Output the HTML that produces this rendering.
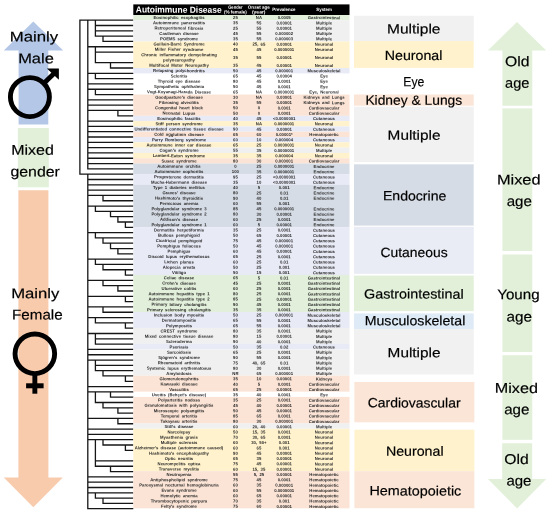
<!DOCTYPE html>
<html lang="en"><head><meta charset="utf-8"><title>Autoimmune Disease clustering</title>
<style>html,body{margin:0;padding:0;background:#fff;overflow:hidden}svg{display:block}text{font-family:"Liberation Sans",sans-serif;fill:#000}.t{font-size:4.25px;font-weight:bold;fill:#2c2c2c;text-anchor:middle;word-spacing:1.0px}.h{font-size:4.6px;fill:#fff;font-weight:bold;text-anchor:middle}.c{font-size:13.4px;text-anchor:middle;stroke:#000;stroke-width:.18px}.b{font-size:14.2px;text-anchor:middle;stroke:#000;stroke-width:.18px}</style></head><body>
<svg width="550" height="515" viewBox="0 0 550 515">
<rect width="550" height="515" fill="#fff"/>
<g id="gender-arrows">
<polygon fill="#b4c7e7" points="33.3,21.6 63.2,50.5 48.3,50.5 48.3,124.5 18.6,124.5 18.6,50.5 3.8,50.5"/>
<rect x="17.8" y="128" width="31" height="59.3" fill="#e2f0d9"/>
<polygon fill="#f8cbad" points="18.4,190.3 48.4,190.3 48.4,477.4 62.8,477.4 33.3,507.3 3.8,477.4 18.4,477.4"/>
</g>
<g id="male" fill="none" stroke="#000">
<circle cx="29.9" cy="97.1" r="19.5" stroke-width="4.9"/>
<line x1="43.4" y1="83.8" x2="54.5" y2="73" stroke-width="4.8"/>
<polygon points="46.9,68.6 58.9,68.6 58.9,79.8" fill="#000" stroke="none"/>
</g>
<g id="female" fill="none" stroke="#000">
<circle cx="34.85" cy="353.8" r="19.8" stroke-width="4.9"/>
<line x1="34.85" y1="373.5" x2="34.85" y2="393.7" stroke-width="4.9"/>
<line x1="26.1" y1="385.8" x2="43.6" y2="385.8" stroke-width="5"/>
</g>
<text class="b" transform="rotate(0.05 34.0 41.6)" x="33.95" y="41.60" textLength="48.50" lengthAdjust="spacingAndGlyphs">Mainly</text>
<text class="b" transform="rotate(0.05 36.0 63.2)" x="36.00" y="63.20" textLength="35.60" lengthAdjust="spacingAndGlyphs">Male</text>
<text class="b" transform="rotate(0.05 32.5 154.7)" x="32.50" y="154.70" textLength="42.60" lengthAdjust="spacingAndGlyphs">Mixed</text>
<text class="b" transform="rotate(0.05 35.1 176.4)" x="35.15" y="176.40" textLength="49.50" lengthAdjust="spacingAndGlyphs">gender</text>
<text class="b" transform="rotate(0.05 35.3 298.3)" x="35.30" y="298.30" textLength="48.20" lengthAdjust="spacingAndGlyphs">Mainly</text>
<text class="b" transform="rotate(0.05 37.4 319.6)" x="37.35" y="319.60" textLength="50.50" lengthAdjust="spacingAndGlyphs">Female</text>
<path id="dendrogram" d="M79.90 20.20L79.90 174.19M79.90 20.20L132.70 20.20M87.80 20.20L87.80 168.88M95.40 20.20L95.40 36.13M95.40 25.51L132.70 25.51M95.40 30.82L132.70 30.82M95.40 36.13L132.70 36.13M103.00 36.13L103.00 41.44M103.00 41.44L132.70 41.44M87.80 46.75L132.70 46.75M95.40 46.75L95.40 62.68M95.40 52.06L132.70 52.06M95.40 62.68L132.70 62.68M110.50 62.68L110.50 67.99M110.50 67.99L132.70 67.99M87.80 73.30L132.70 73.30M95.40 73.30L95.40 78.61M95.40 78.61L132.70 78.61M87.80 83.92L132.70 83.92M87.80 89.23L132.70 89.23M95.40 89.23L95.40 94.54M95.40 94.54L132.70 94.54M87.80 99.85L132.70 99.85M87.80 105.16L132.70 105.16M87.80 110.47L132.70 110.47M117.90 110.47L117.90 115.78M117.90 115.78L132.70 115.78M87.80 121.09L132.70 121.09M87.80 126.40L132.70 126.40M87.80 131.71L132.70 131.71M87.80 137.02L132.70 137.02M87.80 142.33L132.70 142.33M87.80 147.64L132.70 147.64M87.80 152.95L132.70 152.95M87.80 158.26L132.70 158.26M87.80 163.57L132.70 163.57M87.80 168.88L132.70 168.88M79.90 174.19L132.70 174.19M87.80 174.19L87.80 508.72M87.80 179.50L132.70 179.50M87.80 184.81L132.70 184.81M87.80 190.12L132.70 190.12M87.80 195.43L132.70 195.43M103.00 195.43L103.00 200.74M103.00 200.74L132.70 200.74M87.80 206.05L132.70 206.05M95.40 206.05L95.40 211.36M95.40 211.36L132.70 211.36M110.50 211.36L110.50 216.67M110.50 216.67L132.70 216.67M117.90 216.67L117.90 221.98M117.90 221.98L132.70 221.98M125.40 221.98L125.40 227.29M125.40 227.29L132.70 227.29M87.80 232.60L132.70 232.60M95.40 232.60L95.40 237.91M95.40 237.91L132.70 237.91M103.00 237.91L103.00 243.22M103.00 243.22L132.70 243.22M110.50 243.22L110.50 248.53M110.50 248.53L132.70 248.53M117.90 248.53L117.90 253.84M117.90 253.84L132.70 253.84M87.80 259.15L132.70 259.15M95.40 259.15L95.40 264.46M95.40 264.46L132.70 264.46M103.00 264.46L103.00 269.77M103.00 269.77L132.70 269.77M125.40 269.77L125.40 275.08M125.40 275.08L132.70 275.08M87.80 280.39L132.70 280.39M103.00 280.39L103.00 285.70M103.00 285.70L132.70 285.70M117.90 285.70L117.90 291.01M117.90 291.01L132.70 291.01M87.80 296.32L132.70 296.32M125.40 296.32L125.40 301.63M125.40 301.63L132.70 301.63M87.80 306.94L132.70 306.94M103.00 306.94L103.00 312.25M103.00 312.25L132.70 312.25M87.80 317.56L132.70 317.56M95.40 317.56L95.40 322.87M95.40 322.87L132.70 322.87M125.40 322.87L125.40 328.18M125.40 328.18L132.70 328.18M87.80 333.49L132.70 333.49M95.40 333.49L95.40 344.11M95.40 338.80L132.70 338.80M95.40 344.11L132.70 344.11M87.80 349.42L132.70 349.42M87.80 354.73L132.70 354.73M87.80 360.04L132.70 360.04M95.40 360.04L95.40 370.66M95.40 365.35L132.70 365.35M95.40 370.66L132.70 370.66M103.00 370.66L103.00 375.97M103.00 375.97L132.70 375.97M125.40 375.97L125.40 381.28M125.40 381.28L132.70 381.28M87.80 386.59L132.70 386.59M87.80 391.90L132.70 391.90M95.40 391.90L95.40 402.52M110.50 391.90L110.50 397.21M110.50 397.21L132.70 397.21M95.40 402.52L132.70 402.52M103.00 402.52L103.00 407.83M103.00 407.83L132.70 407.83M117.90 407.83L117.90 413.14M117.90 413.14L132.70 413.14M87.80 418.45L132.70 418.45M117.90 418.45L117.90 423.76M117.90 423.76L132.70 423.76M87.80 429.07L132.70 429.07M87.80 434.38L132.70 434.38M87.80 439.69L132.70 439.69M95.40 439.69L95.40 466.24M103.00 439.69L103.00 445.00M103.00 445.00L132.70 445.00M125.40 445.00L125.40 450.31M125.40 450.31L132.70 450.31M95.40 460.93L132.70 460.93M95.40 466.24L132.70 466.24M110.50 466.24L110.50 471.55M110.50 471.55L132.70 471.55M87.80 476.86L132.70 476.86M87.80 482.17L132.70 482.17M87.80 487.48L132.70 487.48M87.80 492.79L132.70 492.79M95.40 492.79L95.40 498.10M95.40 498.10L132.70 498.10M103.00 498.10L103.00 503.41M103.00 503.41L132.70 503.41M87.80 508.72L132.70 508.72" fill="none" stroke="#161616" stroke-width="1.3" stroke-linecap="square"/>
<g id="table">
<rect x="133.3" y="4.4" width="216.20" height="10.60" fill="#000"/>
<rect x="133.3" y="15.00" width="216.20" height="5.35" fill="#e2efda"/>
<rect x="133.3" y="20.30" width="216.20" height="21.27" fill="#f0f0f1"/>
<rect x="133.3" y="41.52" width="216.20" height="26.57" fill="#fff2cc"/>
<rect x="133.3" y="68.04" width="216.20" height="5.35" fill="#e8eaf6"/>
<rect x="133.3" y="94.56" width="216.20" height="21.27" fill="#fbe4d6"/>
<rect x="133.3" y="115.78" width="216.20" height="5.35" fill="#e8eaf6"/>
<rect x="133.3" y="121.09" width="216.20" height="5.35" fill="#fff2cc"/>
<rect x="133.3" y="126.39" width="216.20" height="5.35" fill="#e8eaf6"/>
<rect x="133.3" y="131.69" width="216.20" height="5.35" fill="#fbe4d6"/>
<rect x="133.3" y="137.00" width="216.20" height="5.35" fill="#e8eaf6"/>
<rect x="133.3" y="142.30" width="216.20" height="5.35" fill="#fff2cc"/>
<rect x="133.3" y="147.61" width="216.20" height="5.35" fill="#f0f0f1"/>
<rect x="133.3" y="152.91" width="216.20" height="5.35" fill="#fff2cc"/>
<rect x="133.3" y="158.22" width="216.20" height="5.35" fill="#fbe4d6"/>
<rect x="133.3" y="163.52" width="216.20" height="10.66" fill="#d6dce5"/>
<rect x="133.3" y="174.13" width="216.20" height="10.66" fill="#e8eaf6"/>
<rect x="133.3" y="184.74" width="216.20" height="42.48" fill="#d6dce5"/>
<rect x="133.3" y="227.17" width="216.20" height="47.79" fill="#e8eaf6"/>
<rect x="133.3" y="274.91" width="216.20" height="37.18" fill="#e2efda"/>
<rect x="133.3" y="312.04" width="216.20" height="15.96" fill="#e8eaf6"/>
<rect x="133.3" y="327.95" width="216.20" height="15.96" fill="#f0f0f1"/>
<rect x="133.3" y="343.87" width="216.20" height="5.35" fill="#e8eaf6"/>
<rect x="133.3" y="349.17" width="216.20" height="26.57" fill="#f0f0f1"/>
<rect x="133.3" y="375.69" width="216.20" height="15.96" fill="#fbe4d6"/>
<rect x="133.3" y="396.91" width="216.20" height="26.57" fill="#fbe4d6"/>
<rect x="133.3" y="423.43" width="216.20" height="5.35" fill="#f0f0f1"/>
<rect x="133.3" y="428.74" width="216.20" height="42.48" fill="#fff2cc"/>
<rect x="133.3" y="471.17" width="216.20" height="37.18" fill="#fbe4d6"/>
<g id="table-text">
<g transform="rotate(0.05 240.0 10.0)">
<text x="135.8" y="12.7" textLength="85.8" lengthAdjust="spacingAndGlyphs" style="font-size:8.8px;font-weight:bold;fill:#fff">Autoimmune Disease</text>
<text class="h" x="235.40" y="8.70" textLength="14.50" lengthAdjust="spacingAndGlyphs">Gender</text>
<text class="h" x="235.40" y="13.50" textLength="22.90" lengthAdjust="spacingAndGlyphs">(% female)</text>
<text class="h" x="258.80" y="8.70" textLength="21.90" lengthAdjust="spacingAndGlyphs">Onset age</text>
<text class="h" x="258.75" y="13.50" textLength="13.60" lengthAdjust="spacingAndGlyphs">(year)</text>
<text class="h" x="283.95" y="11.05" textLength="23.20" lengthAdjust="spacingAndGlyphs">Prevalence</text>
<text class="h" x="324.10" y="11.05" textLength="15.50" lengthAdjust="spacingAndGlyphs">System</text>
</g>
<g transform="rotate(0.05 240.0 17.5)">
<text class="t" x="179.0" y="19.05">Eosinophilic esophagitis</text>
<text class="t" x="235.4" y="19.05">25</text>
<text class="t" x="258.9" y="19.05">NA</text>
<text class="t" x="284.2" y="19.05">0.0005</text>
<text class="t" x="324.0" y="19.05">Gastrointestinal</text>
</g>
<g transform="rotate(0.05 240.0 22.8)">
<text class="t" x="179.0" y="24.37">Autoimmune pancreatitis</text>
<text class="t" x="235.4" y="24.37">35</text>
<text class="t" x="258.9" y="24.37">55</text>
<text class="t" x="284.2" y="24.37">0.00001</text>
<text class="t" x="324.0" y="24.37">Multiple</text>
</g>
<g transform="rotate(0.05 240.0 28.1)">
<text class="t" x="179.0" y="29.68">Retroperitoneal fibrosis</text>
<text class="t" x="235.4" y="29.68">25</text>
<text class="t" x="258.9" y="29.68">55</text>
<text class="t" x="284.2" y="29.68">0.00001</text>
<text class="t" x="324.0" y="29.68">Multiple</text>
</g>
<g transform="rotate(0.05 240.0 33.4)">
<text class="t" x="179.0" y="34.99">Castleman disease</text>
<text class="t" x="235.4" y="34.99">45</text>
<text class="t" x="258.9" y="34.99">55</text>
<text class="t" x="284.2" y="34.99">0.000002</text>
<text class="t" x="324.0" y="34.99">Multiple</text>
</g>
<g transform="rotate(0.05 240.0 38.8)">
<text class="t" x="179.0" y="40.30">POEMS syndrome</text>
<text class="t" x="235.4" y="40.30">35</text>
<text class="t" x="258.9" y="40.30">55</text>
<text class="t" x="284.2" y="40.30">0.000003</text>
<text class="t" x="324.0" y="40.30">Multiple</text>
</g>
<g transform="rotate(0.05 240.0 44.1)">
<text class="t" x="179.0" y="45.62">Guillain-Barré Syndrome</text>
<text class="t" x="235.4" y="45.62">40</text>
<text class="t" x="258.9" y="45.62">25, 65</text>
<text class="t" x="284.2" y="45.62">0.00001</text>
<text class="t" x="324.0" y="45.62">Neuronal</text>
</g>
<g transform="rotate(0.05 240.0 49.4)">
<text class="t" x="179.0" y="50.93">Miller Fisher syndrome</text>
<text class="t" x="235.4" y="50.93">45</text>
<text class="t" x="258.9" y="50.93">45</text>
<text class="t" x="284.2" y="50.93">0.0000001</text>
<text class="t" x="324.0" y="50.93">Neuronal</text>
</g>
<g transform="rotate(0.05 240.0 57.3)">
<text class="t" x="179.0" y="56.24">Chronic inflammatory demyelinating</text>
<text class="t" x="179.0" y="61.55">polyneuropathy</text>
<text class="t" x="235.4" y="58.90">35</text>
<text class="t" x="258.9" y="58.90">55</text>
<text class="t" x="284.2" y="58.90">0.00001</text>
<text class="t" x="324.0" y="58.90">Neuronal</text>
</g>
<g transform="rotate(0.05 240.0 65.3)">
<text class="t" x="179.0" y="66.87">Multifocal Motor Neuropathy</text>
<text class="t" x="235.4" y="66.87">35</text>
<text class="t" x="258.9" y="66.87">45</text>
<text class="t" x="284.2" y="66.87">0.00001</text>
<text class="t" x="324.0" y="66.87">Neuronal</text>
</g>
<g transform="rotate(0.05 240.0 70.6)">
<text class="t" x="179.0" y="72.18">Relapsing polychondritis</text>
<text class="t" x="235.4" y="72.18">50</text>
<text class="t" x="258.9" y="72.18">45</text>
<text class="t" x="284.2" y="72.18">0.000001</text>
<text class="t" x="324.0" y="72.18">Musculoskeletal</text>
</g>
<g transform="rotate(0.05 240.0 75.9)">
<text class="t" x="179.0" y="77.50">Scleritis</text>
<text class="t" x="235.4" y="77.50">65</text>
<text class="t" x="258.9" y="77.50">45</text>
<text class="t" x="284.2" y="77.50">0.00004</text>
<text class="t" x="324.0" y="77.50">Eye</text>
</g>
<g transform="rotate(0.05 240.0 81.3)">
<text class="t" x="179.0" y="82.81">Thyroid eye disease</text>
<text class="t" x="235.4" y="82.81">80</text>
<text class="t" x="258.9" y="82.81">45</text>
<text class="t" x="284.2" y="82.81">0.0001</text>
<text class="t" x="324.0" y="82.81">Eye</text>
</g>
<g transform="rotate(0.05 240.0 86.6)">
<text class="t" x="179.0" y="88.12">Sympathetic ophthalmia</text>
<text class="t" x="235.4" y="88.12">50</text>
<text class="t" x="258.9" y="88.12">45</text>
<text class="t" x="284.2" y="88.12">0.0001</text>
<text class="t" x="324.0" y="88.12">Eye</text>
</g>
<g transform="rotate(0.05 240.0 91.9)">
<text class="t" x="179.0" y="93.43">Vogt-Koyanagi-Harada Disease</text>
<text class="t" x="235.4" y="93.43">65</text>
<text class="t" x="258.9" y="93.43">NA</text>
<text class="t" x="284.2" y="93.43">0.0000001</text>
<text class="t" x="324.0" y="93.43">Eye, Neuronal</text>
</g>
<g transform="rotate(0.05 240.0 97.2)">
<text class="t" x="179.0" y="98.75">Goodpasture&#x27;s disease</text>
<text class="t" x="235.4" y="98.75">30</text>
<text class="t" x="258.9" y="98.75">NA</text>
<text class="t" x="284.2" y="98.75">0.00001</text>
<text class="t" x="324.0" y="98.75">Kidneys and Lungs</text>
</g>
<g transform="rotate(0.05 240.0 102.5)">
<text class="t" x="179.0" y="104.06">Fibrosing alveolitis</text>
<text class="t" x="235.4" y="104.06">35</text>
<text class="t" x="258.9" y="104.06">55</text>
<text class="t" x="284.2" y="104.06">0.00001</text>
<text class="t" x="324.0" y="104.06">Kidneys and Lungs</text>
</g>
<g transform="rotate(0.05 240.0 107.8)">
<text class="t" x="179.0" y="109.37">Congenital heart block</text>
<text class="t" x="235.4" y="109.37">50</text>
<text class="t" x="258.9" y="109.37">0</text>
<text class="t" x="284.2" y="109.37">0.0001</text>
<text class="t" x="324.0" y="109.37">Cardiovascular</text>
</g>
<g transform="rotate(0.05 240.0 113.1)">
<text class="t" x="179.0" y="114.69">Neonatal Lupus</text>
<text class="t" x="235.4" y="114.69">50</text>
<text class="t" x="258.9" y="114.69">0</text>
<text class="t" x="284.2" y="114.69">0.0001</text>
<text class="t" x="324.0" y="114.69">Cardiovascular</text>
</g>
<g transform="rotate(0.05 240.0 118.4)">
<text class="t" x="179.0" y="120.00">Eosinophilic fasciitis</text>
<text class="t" x="235.4" y="120.00">40</text>
<text class="t" x="258.9" y="120.00">45</text>
<text class="t" x="284.2" y="120.00">&lt;0.0000001</text>
<text class="t" x="324.0" y="120.00">Cutaneous</text>
</g>
<g transform="rotate(0.05 240.0 123.8)">
<text class="t" x="179.0" y="125.31">Stiff person syndrome</text>
<text class="t" x="235.4" y="125.31">35</text>
<text class="t" x="258.9" y="125.31">NA</text>
<text class="t" x="284.2" y="125.31">0.0000001</text>
<text class="t" x="324.0" y="125.31">Neuronal</text>
</g>
<g transform="rotate(0.05 240.0 129.1)">
<text class="t" x="179.0" y="130.63">Undifferentiated connective tissue disease</text>
<text class="t" x="235.4" y="130.63">90</text>
<text class="t" x="258.9" y="130.63">45</text>
<text class="t" x="284.2" y="130.63">0.00001</text>
<text class="t" x="324.0" y="130.63">Cutaneous</text>
</g>
<g transform="rotate(0.05 240.0 134.4)">
<text class="t" x="179.0" y="135.94">Cold agglutinin disease</text>
<text class="t" x="235.4" y="135.94">65</text>
<text class="t" x="258.9" y="135.94">60</text>
<text class="t" x="284.2" y="135.94">0.00001*</text>
<text class="t" x="324.0" y="135.94">Hematopoietic</text>
</g>
<g transform="rotate(0.05 240.0 139.7)">
<text class="t" x="179.0" y="141.25">Parry Romberg syndrome</text>
<text class="t" x="235.4" y="141.25">60</text>
<text class="t" x="258.9" y="141.25">10</text>
<text class="t" x="284.2" y="141.25">0.000004</text>
<text class="t" x="324.0" y="141.25">Cutaneous</text>
</g>
<g transform="rotate(0.05 240.0 145.0)">
<text class="t" x="179.0" y="146.56">Autoimmune inner ear disease</text>
<text class="t" x="235.4" y="146.56">65</text>
<text class="t" x="258.9" y="146.56">25</text>
<text class="t" x="284.2" y="146.56">0.0000001</text>
<text class="t" x="324.0" y="146.56">Neuronal</text>
</g>
<g transform="rotate(0.05 240.0 150.3)">
<text class="t" x="179.0" y="151.88">Cogan&#x27;s syndrome</text>
<text class="t" x="235.4" y="151.88">55</text>
<text class="t" x="258.9" y="151.88">35</text>
<text class="t" x="284.2" y="151.88">0.0000001</text>
<text class="t" x="324.0" y="151.88">Multiple</text>
</g>
<g transform="rotate(0.05 240.0 155.6)">
<text class="t" x="179.0" y="157.19">Lambert-Eaton syndrome</text>
<text class="t" x="235.4" y="157.19">35</text>
<text class="t" x="258.9" y="157.19">35</text>
<text class="t" x="284.2" y="157.19">0.000004</text>
<text class="t" x="324.0" y="157.19">Neuronal</text>
</g>
<g transform="rotate(0.05 240.0 161.0)">
<text class="t" x="179.0" y="162.50">Susac syndrome</text>
<text class="t" x="235.4" y="162.50">80</text>
<text class="t" x="258.9" y="162.50">30</text>
<text class="t" x="284.2" y="162.50">0.000001</text>
<text class="t" x="324.0" y="162.50">Cardiovascular</text>
</g>
<g transform="rotate(0.05 240.0 166.3)">
<text class="t" x="179.0" y="167.82">Autoimmune orchitis</text>
<text class="t" x="235.4" y="167.82">0</text>
<text class="t" x="258.9" y="167.82">25</text>
<text class="t" x="284.2" y="167.82">0.0000001</text>
<text class="t" x="324.0" y="167.82">Endocrine</text>
</g>
<g transform="rotate(0.05 240.0 171.6)">
<text class="t" x="179.0" y="173.13">Autoimmune oophoritis</text>
<text class="t" x="235.4" y="173.13">100</text>
<text class="t" x="258.9" y="173.13">35</text>
<text class="t" x="284.2" y="173.13">0.0000001</text>
<text class="t" x="324.0" y="173.13">Endocrine</text>
</g>
<g transform="rotate(0.05 240.0 176.9)">
<text class="t" x="179.0" y="178.44">Progesterone dermatitis</text>
<text class="t" x="235.4" y="178.44">95</text>
<text class="t" x="258.9" y="178.44">25</text>
<text class="t" x="284.2" y="178.44">&lt;0.0000001</text>
<text class="t" x="324.0" y="178.44">Cutaneous</text>
</g>
<g transform="rotate(0.05 240.0 182.2)">
<text class="t" x="179.0" y="183.76">Mucha-Habermann disease</text>
<text class="t" x="235.4" y="183.76">35</text>
<text class="t" x="258.9" y="183.76">10</text>
<text class="t" x="284.2" y="183.76">&lt;0.0000001</text>
<text class="t" x="324.0" y="183.76">Cutaneous</text>
</g>
<g transform="rotate(0.05 240.0 187.5)">
<text class="t" x="179.0" y="189.07">Type 1 diabetes mellitus</text>
<text class="t" x="235.4" y="189.07">40</text>
<text class="t" x="258.9" y="189.07">5</text>
<text class="t" x="284.2" y="189.07">0.001</text>
<text class="t" x="324.0" y="189.07">Endocrine</text>
</g>
<g transform="rotate(0.05 240.0 192.8)">
<text class="t" x="179.0" y="194.38">Graves&#x27; disease</text>
<text class="t" x="235.4" y="194.38">80</text>
<text class="t" x="258.9" y="194.38">25</text>
<text class="t" x="284.2" y="194.38">0.01</text>
<text class="t" x="324.0" y="194.38">Endocrine</text>
</g>
<g transform="rotate(0.05 240.0 198.1)">
<text class="t" x="179.0" y="199.69">Hashimoto&#x27;s thyroiditis</text>
<text class="t" x="235.4" y="199.69">90</text>
<text class="t" x="258.9" y="199.69">40</text>
<text class="t" x="284.2" y="199.69">0.01</text>
<text class="t" x="324.0" y="199.69">Endocrine</text>
</g>
<g transform="rotate(0.05 240.0 203.5)">
<text class="t" x="179.0" y="205.01">Pernicious anemia</text>
<text class="t" x="235.4" y="205.01">60</text>
<text class="t" x="258.9" y="205.01">55</text>
<text class="t" x="284.2" y="205.01">0.001</text>
</g>
<g transform="rotate(0.05 240.0 208.8)">
<text class="t" x="179.0" y="210.32">Polyglandular syndrome 3</text>
<text class="t" x="235.4" y="210.32">85</text>
<text class="t" x="258.9" y="210.32">45</text>
<text class="t" x="284.2" y="210.32">0.0000001</text>
<text class="t" x="324.0" y="210.32">Endocrine</text>
</g>
<g transform="rotate(0.05 240.0 214.1)">
<text class="t" x="179.0" y="215.63">Polyglandular syndrome 2</text>
<text class="t" x="235.4" y="215.63">80</text>
<text class="t" x="258.9" y="215.63">30</text>
<text class="t" x="284.2" y="215.63">0.00001</text>
<text class="t" x="324.0" y="215.63">Endocrine</text>
</g>
<g transform="rotate(0.05 240.0 219.4)">
<text class="t" x="179.0" y="220.95">Addison&#x27;s disease</text>
<text class="t" x="235.4" y="220.95">60</text>
<text class="t" x="258.9" y="220.95">25</text>
<text class="t" x="284.2" y="220.95">0.0001</text>
<text class="t" x="324.0" y="220.95">Endocrine</text>
</g>
<g transform="rotate(0.05 240.0 224.7)">
<text class="t" x="179.0" y="226.26">Polyglandular syndrome 1</text>
<text class="t" x="235.4" y="226.26">60</text>
<text class="t" x="258.9" y="226.26">5</text>
<text class="t" x="284.2" y="226.26">0.00001</text>
<text class="t" x="324.0" y="226.26">Endocrine</text>
</g>
<g transform="rotate(0.05 240.0 230.0)">
<text class="t" x="179.0" y="231.57">Dermatitis herpetiformis</text>
<text class="t" x="235.4" y="231.57">35</text>
<text class="t" x="258.9" y="231.57">25</text>
<text class="t" x="284.2" y="231.57">0.0001</text>
<text class="t" x="324.0" y="231.57">Cutaneous</text>
</g>
<g transform="rotate(0.05 240.0 235.3)">
<text class="t" x="179.0" y="236.89">Bullous pemphigoid</text>
<text class="t" x="235.4" y="236.89">50</text>
<text class="t" x="258.9" y="236.89">65</text>
<text class="t" x="284.2" y="236.89">0.00001</text>
<text class="t" x="324.0" y="236.89">Cutaneous</text>
</g>
<g transform="rotate(0.05 240.0 240.6)">
<text class="t" x="179.0" y="242.20">Cicatricial pemphigoid</text>
<text class="t" x="235.4" y="242.20">75</text>
<text class="t" x="258.9" y="242.20">45</text>
<text class="t" x="284.2" y="242.20">0.000001</text>
<text class="t" x="324.0" y="242.20">Cutaneous</text>
</g>
<g transform="rotate(0.05 240.0 246.0)">
<text class="t" x="179.0" y="247.51">Pemphigus foliaceus</text>
<text class="t" x="235.4" y="247.51">50</text>
<text class="t" x="258.9" y="247.51">45</text>
<text class="t" x="284.2" y="247.51">0.000001</text>
<text class="t" x="324.0" y="247.51">Cutaneous</text>
</g>
<g transform="rotate(0.05 240.0 251.3)">
<text class="t" x="179.0" y="252.82">Pemphigus</text>
<text class="t" x="235.4" y="252.82">60</text>
<text class="t" x="258.9" y="252.82">45</text>
<text class="t" x="284.2" y="252.82">0.00001</text>
<text class="t" x="324.0" y="252.82">Cutaneous</text>
</g>
<g transform="rotate(0.05 240.0 256.6)">
<text class="t" x="179.0" y="258.14">Discoid lupus erythematosus</text>
<text class="t" x="235.4" y="258.14">65</text>
<text class="t" x="258.9" y="258.14">25</text>
<text class="t" x="284.2" y="258.14">0.0001</text>
<text class="t" x="324.0" y="258.14">Cutaneous</text>
</g>
<g transform="rotate(0.05 240.0 261.9)">
<text class="t" x="179.0" y="263.45">Lichen planus</text>
<text class="t" x="235.4" y="263.45">60</text>
<text class="t" x="258.9" y="263.45">25</text>
<text class="t" x="284.2" y="263.45">0.01</text>
<text class="t" x="324.0" y="263.45">Cutaneous</text>
</g>
<g transform="rotate(0.05 240.0 267.2)">
<text class="t" x="179.0" y="268.76">Alopecia areata</text>
<text class="t" x="235.4" y="268.76">50</text>
<text class="t" x="258.9" y="268.76">25</text>
<text class="t" x="284.2" y="268.76">0.001</text>
<text class="t" x="324.0" y="268.76">Cutaneous</text>
</g>
<g transform="rotate(0.05 240.0 272.5)">
<text class="t" x="179.0" y="274.08">Vitiligo</text>
<text class="t" x="235.4" y="274.08">50</text>
<text class="t" x="258.9" y="274.08">15</text>
<text class="t" x="284.2" y="274.08">0.001</text>
<text class="t" x="324.0" y="274.08">Cutaneous</text>
</g>
<g transform="rotate(0.05 240.0 277.8)">
<text class="t" x="179.0" y="279.39">Celiac disease</text>
<text class="t" x="235.4" y="279.39">65</text>
<text class="t" x="258.9" y="279.39">5</text>
<text class="t" x="284.2" y="279.39">0.01</text>
<text class="t" x="324.0" y="279.39">Gastrointestinal</text>
</g>
<g transform="rotate(0.05 240.0 283.2)">
<text class="t" x="179.0" y="284.70">Crohn&#x27;s disease</text>
<text class="t" x="235.4" y="284.70">45</text>
<text class="t" x="258.9" y="284.70">25</text>
<text class="t" x="284.2" y="284.70">0.0001</text>
<text class="t" x="324.0" y="284.70">Gastrointestinal</text>
</g>
<g transform="rotate(0.05 240.0 288.5)">
<text class="t" x="179.0" y="290.01">Ulcerative colitis</text>
<text class="t" x="235.4" y="290.01">60</text>
<text class="t" x="258.9" y="290.01">25</text>
<text class="t" x="284.2" y="290.01">0.0001</text>
<text class="t" x="324.0" y="290.01">Gastrointestinal</text>
</g>
<g transform="rotate(0.05 240.0 293.8)">
<text class="t" x="179.0" y="295.33">Autoimmune hepatitis type 1</text>
<text class="t" x="235.4" y="295.33">80</text>
<text class="t" x="258.9" y="295.33">25</text>
<text class="t" x="284.2" y="295.33">0.0001</text>
<text class="t" x="324.0" y="295.33">Gastrointestinal</text>
</g>
<g transform="rotate(0.05 240.0 299.1)">
<text class="t" x="179.0" y="300.64">Autoimmune hepatitis type 2</text>
<text class="t" x="235.4" y="300.64">85</text>
<text class="t" x="258.9" y="300.64">25</text>
<text class="t" x="284.2" y="300.64">0.00001</text>
<text class="t" x="324.0" y="300.64">Gastrointestinal</text>
</g>
<g transform="rotate(0.05 240.0 304.4)">
<text class="t" x="179.0" y="305.95">Primary biliary cholangitis</text>
<text class="t" x="235.4" y="305.95">90</text>
<text class="t" x="258.9" y="305.95">45</text>
<text class="t" x="284.2" y="305.95">0.0001</text>
<text class="t" x="324.0" y="305.95">Gastrointestinal</text>
</g>
<g transform="rotate(0.05 240.0 309.7)">
<text class="t" x="179.0" y="311.27">Primary sclerosing cholangitis</text>
<text class="t" x="235.4" y="311.27">35</text>
<text class="t" x="258.9" y="311.27">35</text>
<text class="t" x="284.2" y="311.27">0.0001</text>
<text class="t" x="324.0" y="311.27">Gastrointestinal</text>
</g>
<g transform="rotate(0.05 240.0 315.0)">
<text class="t" x="179.0" y="316.58">Inclusion body myositis</text>
<text class="t" x="235.4" y="316.58">50</text>
<text class="t" x="258.9" y="316.58">25</text>
<text class="t" x="284.2" y="316.58">0.000001</text>
<text class="t" x="324.0" y="316.58">Musculoskeletal</text>
</g>
<g transform="rotate(0.05 240.0 320.3)">
<text class="t" x="179.0" y="321.89">Dermatomyositis</text>
<text class="t" x="235.4" y="321.89">65</text>
<text class="t" x="258.9" y="321.89">55</text>
<text class="t" x="284.2" y="321.89">0.0001</text>
<text class="t" x="324.0" y="321.89">Musculoskeletal</text>
</g>
<g transform="rotate(0.05 240.0 325.7)">
<text class="t" x="179.0" y="327.21">Polymyositis</text>
<text class="t" x="235.4" y="327.21">65</text>
<text class="t" x="258.9" y="327.21">55</text>
<text class="t" x="284.2" y="327.21">0.0001</text>
<text class="t" x="324.0" y="327.21">Musculoskeletal</text>
</g>
<g transform="rotate(0.05 240.0 331.0)">
<text class="t" x="179.0" y="332.52">CREST syndrome</text>
<text class="t" x="235.4" y="332.52">80</text>
<text class="t" x="258.9" y="332.52">35</text>
<text class="t" x="284.2" y="332.52">0.0001</text>
<text class="t" x="324.0" y="332.52">Multiple</text>
</g>
<g transform="rotate(0.05 240.0 336.3)">
<text class="t" x="179.0" y="337.83">Mixed connective tissue disease</text>
<text class="t" x="235.4" y="337.83">80</text>
<text class="t" x="258.9" y="337.83">15</text>
<text class="t" x="284.2" y="337.83">0.00001</text>
<text class="t" x="324.0" y="337.83">Multiple</text>
</g>
<g transform="rotate(0.05 240.0 341.6)">
<text class="t" x="179.0" y="343.14">Scleroderma</text>
<text class="t" x="235.4" y="343.14">90</text>
<text class="t" x="258.9" y="343.14">40</text>
<text class="t" x="284.2" y="343.14">0.0001</text>
<text class="t" x="324.0" y="343.14">Multiple</text>
</g>
<g transform="rotate(0.05 240.0 346.9)">
<text class="t" x="179.0" y="348.46">Psoriasis</text>
<text class="t" x="235.4" y="348.46">50</text>
<text class="t" x="258.9" y="348.46">35</text>
<text class="t" x="284.2" y="348.46">0.02</text>
<text class="t" x="324.0" y="348.46">Cutaneous</text>
</g>
<g transform="rotate(0.05 240.0 352.2)">
<text class="t" x="179.0" y="353.77">Sarcoidosis</text>
<text class="t" x="235.4" y="353.77">65</text>
<text class="t" x="258.9" y="353.77">25</text>
<text class="t" x="284.2" y="353.77">0.0001</text>
<text class="t" x="324.0" y="353.77">Multiple</text>
</g>
<g transform="rotate(0.05 240.0 357.5)">
<text class="t" x="179.0" y="359.08">Sjögren&#x27;s syndrome</text>
<text class="t" x="235.4" y="359.08">90</text>
<text class="t" x="258.9" y="359.08">55</text>
<text class="t" x="284.2" y="359.08">0.0001</text>
<text class="t" x="324.0" y="359.08">Multiple</text>
</g>
<g transform="rotate(0.05 240.0 362.8)">
<text class="t" x="179.0" y="364.40">Rheumatoid arthritis</text>
<text class="t" x="235.4" y="364.40">75</text>
<text class="t" x="258.9" y="364.40">40, 65</text>
<text class="t" x="284.2" y="364.40">0.01</text>
<text class="t" x="324.0" y="364.40">Multiple</text>
</g>
<g transform="rotate(0.05 240.0 368.2)">
<text class="t" x="179.0" y="369.71">Systemic lupus erythematosus</text>
<text class="t" x="235.4" y="369.71">80</text>
<text class="t" x="258.9" y="369.71">30</text>
<text class="t" x="284.2" y="369.71">0.0001</text>
<text class="t" x="324.0" y="369.71">Multiple</text>
</g>
<g transform="rotate(0.05 240.0 373.5)">
<text class="t" x="179.0" y="375.02">Amyloidosis</text>
<text class="t" x="235.4" y="375.02">NR</text>
<text class="t" x="258.9" y="375.02">65</text>
<text class="t" x="284.2" y="375.02">0.000001</text>
<text class="t" x="324.0" y="375.02">Multiple</text>
</g>
<g transform="rotate(0.05 240.0 378.8)">
<text class="t" x="179.0" y="380.34">Glomerulonephritis</text>
<text class="t" x="235.4" y="380.34">35</text>
<text class="t" x="258.9" y="380.34">10</text>
<text class="t" x="284.2" y="380.34">0.00001</text>
<text class="t" x="324.0" y="380.34">Kidneys</text>
</g>
<g transform="rotate(0.05 240.0 384.1)">
<text class="t" x="179.0" y="385.65">Kawasaki disease</text>
<text class="t" x="235.4" y="385.65">40</text>
<text class="t" x="258.9" y="385.65">5</text>
<text class="t" x="284.2" y="385.65">0.0001</text>
<text class="t" x="324.0" y="385.65">Cardiovascular</text>
</g>
<g transform="rotate(0.05 240.0 389.4)">
<text class="t" x="179.0" y="390.96">Vasculitis</text>
<text class="t" x="235.4" y="390.96">65</text>
<text class="t" x="258.9" y="390.96">25</text>
<text class="t" x="284.2" y="390.96">0.00001</text>
<text class="t" x="324.0" y="390.96">Cardiovascular</text>
</g>
<g transform="rotate(0.05 240.0 394.7)">
<text class="t" x="179.0" y="396.27">Uveitis (Behçet&#x27;s disease)</text>
<text class="t" x="235.4" y="396.27">35</text>
<text class="t" x="258.9" y="396.27">40</text>
<text class="t" x="284.2" y="396.27">0.0001</text>
<text class="t" x="324.0" y="396.27">Eye</text>
</g>
<g transform="rotate(0.05 240.0 400.0)">
<text class="t" x="179.0" y="401.59">Polyarteritis nodosa</text>
<text class="t" x="235.4" y="401.59">35</text>
<text class="t" x="258.9" y="401.59">25</text>
<text class="t" x="284.2" y="401.59">0.0001</text>
<text class="t" x="324.0" y="401.59">Cardiovascular</text>
</g>
<g transform="rotate(0.05 240.0 405.4)">
<text class="t" x="179.0" y="406.90">Granulomatosis with polyangiitis</text>
<text class="t" x="235.4" y="406.90">45</text>
<text class="t" x="258.9" y="406.90">40</text>
<text class="t" x="284.2" y="406.90">0.00001</text>
<text class="t" x="324.0" y="406.90">Cardiovascular</text>
</g>
<g transform="rotate(0.05 240.0 410.7)">
<text class="t" x="179.0" y="412.21">Microscopic polyangiitis</text>
<text class="t" x="235.4" y="412.21">50</text>
<text class="t" x="258.9" y="412.21">45</text>
<text class="t" x="284.2" y="412.21">0.00001</text>
<text class="t" x="324.0" y="412.21">Cardiovascular</text>
</g>
<g transform="rotate(0.05 240.0 416.0)">
<text class="t" x="179.0" y="417.53">Temporal arteritis</text>
<text class="t" x="235.4" y="417.53">85</text>
<text class="t" x="258.9" y="417.53">65</text>
<text class="t" x="284.2" y="417.53">0.0001</text>
<text class="t" x="324.0" y="417.53">Cardiovascular</text>
</g>
<g transform="rotate(0.05 240.0 421.3)">
<text class="t" x="179.0" y="422.84">Takayasu arteritis</text>
<text class="t" x="235.4" y="422.84">80</text>
<text class="t" x="258.9" y="422.84">30</text>
<text class="t" x="284.2" y="422.84">0.000001</text>
<text class="t" x="324.0" y="422.84">Cardiovascular</text>
</g>
<g transform="rotate(0.05 240.0 426.6)">
<text class="t" x="179.0" y="428.15">Still&#x27;s disease</text>
<text class="t" x="235.4" y="428.15">60</text>
<text class="t" x="258.9" y="428.15">20, 40</text>
<text class="t" x="284.2" y="428.15">0.00001</text>
<text class="t" x="324.0" y="428.15">Multiple</text>
</g>
<g transform="rotate(0.05 240.0 431.9)">
<text class="t" x="179.0" y="433.47">Narcolepsy</text>
<text class="t" x="235.4" y="433.47">50</text>
<text class="t" x="258.9" y="433.47">15, 35</text>
<text class="t" x="284.2" y="433.47">0.0001</text>
<text class="t" x="324.0" y="433.47">Neuronal</text>
</g>
<g transform="rotate(0.05 240.0 437.2)">
<text class="t" x="179.0" y="438.78">Myasthenia gravis</text>
<text class="t" x="235.4" y="438.78">70</text>
<text class="t" x="258.9" y="438.78">30, 65</text>
<text class="t" x="284.2" y="438.78">0.0001</text>
<text class="t" x="324.0" y="438.78">Neuronal</text>
</g>
<g transform="rotate(0.05 240.0 442.5)">
<text class="t" x="179.0" y="444.09">Multiple sclerosis</text>
<text class="t" x="235.4" y="444.09">60</text>
<text class="t" x="258.9" y="444.09">30, 50+</text>
<text class="t" x="284.2" y="444.09">0.001</text>
<text class="t" x="324.0" y="444.09">Neuronal</text>
</g>
<g transform="rotate(0.05 240.0 447.9)">
<text class="t" x="179.0" y="449.40">Alzheimer&#x27;s disease (autoimmune caused)</text>
<text class="t" x="235.4" y="449.40">60</text>
<text class="t" x="258.9" y="449.40">65</text>
<text class="t" x="284.2" y="449.40">0.001</text>
<text class="t" x="324.0" y="449.40">Neuronal</text>
</g>
<g transform="rotate(0.05 240.0 453.2)">
<text class="t" x="179.0" y="454.72">Hashimoto&#x27;s encephalopathy</text>
<text class="t" x="235.4" y="454.72">90</text>
<text class="t" x="258.9" y="454.72">45</text>
<text class="t" x="284.2" y="454.72">0.00001</text>
<text class="t" x="324.0" y="454.72">Neuronal</text>
</g>
<g transform="rotate(0.05 240.0 458.5)">
<text class="t" x="179.0" y="460.03">Optic neuritis</text>
<text class="t" x="235.4" y="460.03">65</text>
<text class="t" x="258.9" y="460.03">35</text>
<text class="t" x="284.2" y="460.03">0.00001</text>
<text class="t" x="324.0" y="460.03">Neuronal</text>
</g>
<g transform="rotate(0.05 240.0 463.8)">
<text class="t" x="179.0" y="465.34">Neuromyelitis optica</text>
<text class="t" x="235.4" y="465.34">75</text>
<text class="t" x="258.9" y="465.34">45</text>
<text class="t" x="284.2" y="465.34">0.00001</text>
<text class="t" x="324.0" y="465.34">Neuronal</text>
</g>
<g transform="rotate(0.05 240.0 469.1)">
<text class="t" x="179.0" y="470.66">Transverse myelitis</text>
<text class="t" x="235.4" y="470.66">60</text>
<text class="t" x="258.9" y="470.66">15, 35</text>
<text class="t" x="284.2" y="470.66">0.00001</text>
<text class="t" x="324.0" y="470.66">Neuronal</text>
</g>
<g transform="rotate(0.05 240.0 474.4)">
<text class="t" x="179.0" y="475.97">Neutropenia</text>
<text class="t" x="235.4" y="475.97">55</text>
<text class="t" x="258.9" y="475.97">5, 25</text>
<text class="t" x="284.2" y="475.97">0.00001</text>
<text class="t" x="324.0" y="475.97">Hematopoietic</text>
</g>
<g transform="rotate(0.05 240.0 479.7)">
<text class="t" x="179.0" y="481.28">Antiphospholipid syndrome</text>
<text class="t" x="235.4" y="481.28">75</text>
<text class="t" x="258.9" y="481.28">45</text>
<text class="t" x="284.2" y="481.28">0.0001</text>
<text class="t" x="324.0" y="481.28">Hematopoietic</text>
</g>
<g transform="rotate(0.05 240.0 485.0)">
<text class="t" x="179.0" y="486.60">Paroxysmal nocturnal hemoglobinuria</text>
<text class="t" x="235.4" y="486.60">60</text>
<text class="t" x="258.9" y="486.60">35</text>
<text class="t" x="284.2" y="486.60">0.000001</text>
<text class="t" x="324.0" y="486.60">Hematopoietic</text>
</g>
<g transform="rotate(0.05 240.0 490.4)">
<text class="t" x="179.0" y="491.91">Evans syndrome</text>
<text class="t" x="235.4" y="491.91">60</text>
<text class="t" x="258.9" y="491.91">55</text>
<text class="t" x="284.2" y="491.91">0.0000001</text>
<text class="t" x="324.0" y="491.91">Hematopoietic</text>
</g>
<g transform="rotate(0.05 240.0 495.7)">
<text class="t" x="179.0" y="497.22">Hemolytic anemia</text>
<text class="t" x="235.4" y="497.22">60</text>
<text class="t" x="258.9" y="497.22">65</text>
<text class="t" x="284.2" y="497.22">0.00001</text>
<text class="t" x="324.0" y="497.22">Hematopoietic</text>
</g>
<g transform="rotate(0.05 240.0 501.0)">
<text class="t" x="179.0" y="502.53">Thrombocytopenic purpura</text>
<text class="t" x="235.4" y="502.53">70</text>
<text class="t" x="258.9" y="502.53">35</text>
<text class="t" x="284.2" y="502.53">0.001</text>
<text class="t" x="324.0" y="502.53">Hematopoietic</text>
</g>
<g transform="rotate(0.05 240.0 506.3)">
<text class="t" x="179.0" y="507.85">Felty&#x27;s syndrome</text>
<text class="t" x="235.4" y="507.85">75</text>
<text class="t" x="258.9" y="507.85">60</text>
<text class="t" x="284.2" y="507.85">0.00001</text>
<text class="t" x="324.0" y="507.85">Hematopoietic</text>
</g>
</g>
</g>
<g id="categories">
<rect x="354.0" y="15.8" width="119.70" height="25.20" fill="#f1f1f2"/>
<rect x="354.0" y="41.0" width="119.70" height="26.90" fill="#fff2cc"/>
<rect x="354.0" y="94.5" width="119.70" height="11.20" fill="#fbe5d6"/>
<rect x="354.0" y="106.7" width="119.70" height="55.30" fill="#f1f1f2"/>
<rect x="354.0" y="164.3" width="119.70" height="61.30" fill="#d6dce5"/>
<rect x="354.0" y="226.8" width="119.70" height="47.00" fill="#e9ebf5"/>
<rect x="354.0" y="275.6" width="119.70" height="35.60" fill="#e2f0d9"/>
<rect x="354.0" y="313.4" width="119.70" height="15.60" fill="#deebf7"/>
<rect x="354.0" y="329.0" width="119.70" height="45.50" fill="#f1f1f2"/>
<rect x="354.4" y="382.0" width="120.00" height="40.30" fill="#fbe5d6"/>
<rect x="354.4" y="429.7" width="120.00" height="41.50" fill="#fff2cc"/>
<rect x="354.4" y="471.2" width="120.00" height="37.00" fill="#fbe5d6"/>
<text class="c" transform="rotate(0.05 413.8 33.6)" x="413.80" y="33.60" textLength="53.40" lengthAdjust="spacingAndGlyphs">Multiple</text>
<text class="c" transform="rotate(0.05 413.6 60.0)" x="413.60" y="60.00" textLength="57.60" lengthAdjust="spacingAndGlyphs">Neuronal</text>
<text class="c" transform="rotate(0.05 413.8 86.3)" x="413.80" y="86.30" textLength="21.00" lengthAdjust="spacingAndGlyphs">Eye</text>
<text class="c" transform="rotate(0.05 413.8 104.8)" x="413.80" y="104.80" textLength="96.80" lengthAdjust="spacingAndGlyphs">Kidney &amp; Lungs</text>
<text class="c" transform="rotate(0.05 414.1 139.7)" x="414.05" y="139.70" textLength="52.90" lengthAdjust="spacingAndGlyphs">Multiple</text>
<text class="c" transform="rotate(0.05 414.6 200.4)" x="414.65" y="200.40" textLength="63.50" lengthAdjust="spacingAndGlyphs">Endocrine</text>
<text class="c" transform="rotate(0.05 414.0 257.1)" x="414.05" y="257.10" textLength="67.10" lengthAdjust="spacingAndGlyphs">Cutaneous</text>
<text class="c" transform="rotate(0.05 413.9 298.6)" x="413.85" y="298.60" textLength="99.70" lengthAdjust="spacingAndGlyphs">Gastrointestinal</text>
<text class="c" transform="rotate(0.05 415.0 325.3)" x="415.00" y="325.30" textLength="100.60" lengthAdjust="spacingAndGlyphs">Musculoskeletal</text>
<text class="c" transform="rotate(0.05 414.1 357.3)" x="414.05" y="357.30" textLength="52.90" lengthAdjust="spacingAndGlyphs">Multiple</text>
<text class="c" transform="rotate(0.05 414.1 407.4)" x="414.15" y="407.40" textLength="92.90" lengthAdjust="spacingAndGlyphs">Cardiovascular</text>
<text class="c" transform="rotate(0.05 414.8 455.7)" x="414.75" y="455.70" textLength="57.70" lengthAdjust="spacingAndGlyphs">Neuronal</text>
<text class="c" transform="rotate(0.05 415.4 495.4)" x="415.35" y="495.40" textLength="91.90" lengthAdjust="spacingAndGlyphs">Hematopoietic</text>
</g>
<g id="age-arrows" fill="#e2f0d9">
<polygon points="517,22 546.3,50.5 532.3,50.5 532.3,105.7 502.4,105.7 502.4,50.5 487.9,50.5"/>
<rect x="502.4" y="108.4" width="29.9" height="142.6"/>
<rect x="502.4" y="254.5" width="29.9" height="97.5"/>
<rect x="502.4" y="355.2" width="29.9" height="84.6"/>
<polygon points="502.2,443.2 532.2,443.2 532.2,479 546.2,479 517.1,508.4 488,479 502.2,479"/>
</g>
<text class="b" transform="rotate(0.05 517.4 66.3)" x="517.35" y="66.30" textLength="24.50" lengthAdjust="spacingAndGlyphs">Old</text>
<text class="b" transform="rotate(0.05 517.2 87.8)" x="517.25" y="87.80" textLength="24.30" lengthAdjust="spacingAndGlyphs">age</text>
<text class="b" transform="rotate(0.05 518.8 184.5)" x="518.75" y="184.50" textLength="43.70" lengthAdjust="spacingAndGlyphs">Mixed</text>
<text class="b" transform="rotate(0.05 519.3 205.9)" x="519.30" y="205.90" textLength="25.20" lengthAdjust="spacingAndGlyphs">age</text>
<text class="b" transform="rotate(0.05 518.4 299.3)" x="518.40" y="299.30" textLength="42.40" lengthAdjust="spacingAndGlyphs">Young</text>
<text class="b" transform="rotate(0.05 519.1 321.5)" x="519.15" y="321.50" textLength="25.50" lengthAdjust="spacingAndGlyphs">age</text>
<text class="b" transform="rotate(0.05 516.4 392.9)" x="516.35" y="392.90" textLength="43.10" lengthAdjust="spacingAndGlyphs">Mixed</text>
<text class="b" transform="rotate(0.05 516.8 414.3)" x="516.80" y="414.30" textLength="25.20" lengthAdjust="spacingAndGlyphs">age</text>
<text class="b" transform="rotate(0.05 516.5 464.0)" x="516.50" y="464.00" textLength="24.40" lengthAdjust="spacingAndGlyphs">Old</text>
<text class="b" transform="rotate(0.05 518.9 485.4)" x="518.90" y="485.40" textLength="25.00" lengthAdjust="spacingAndGlyphs">age</text>
</svg></body></html>
